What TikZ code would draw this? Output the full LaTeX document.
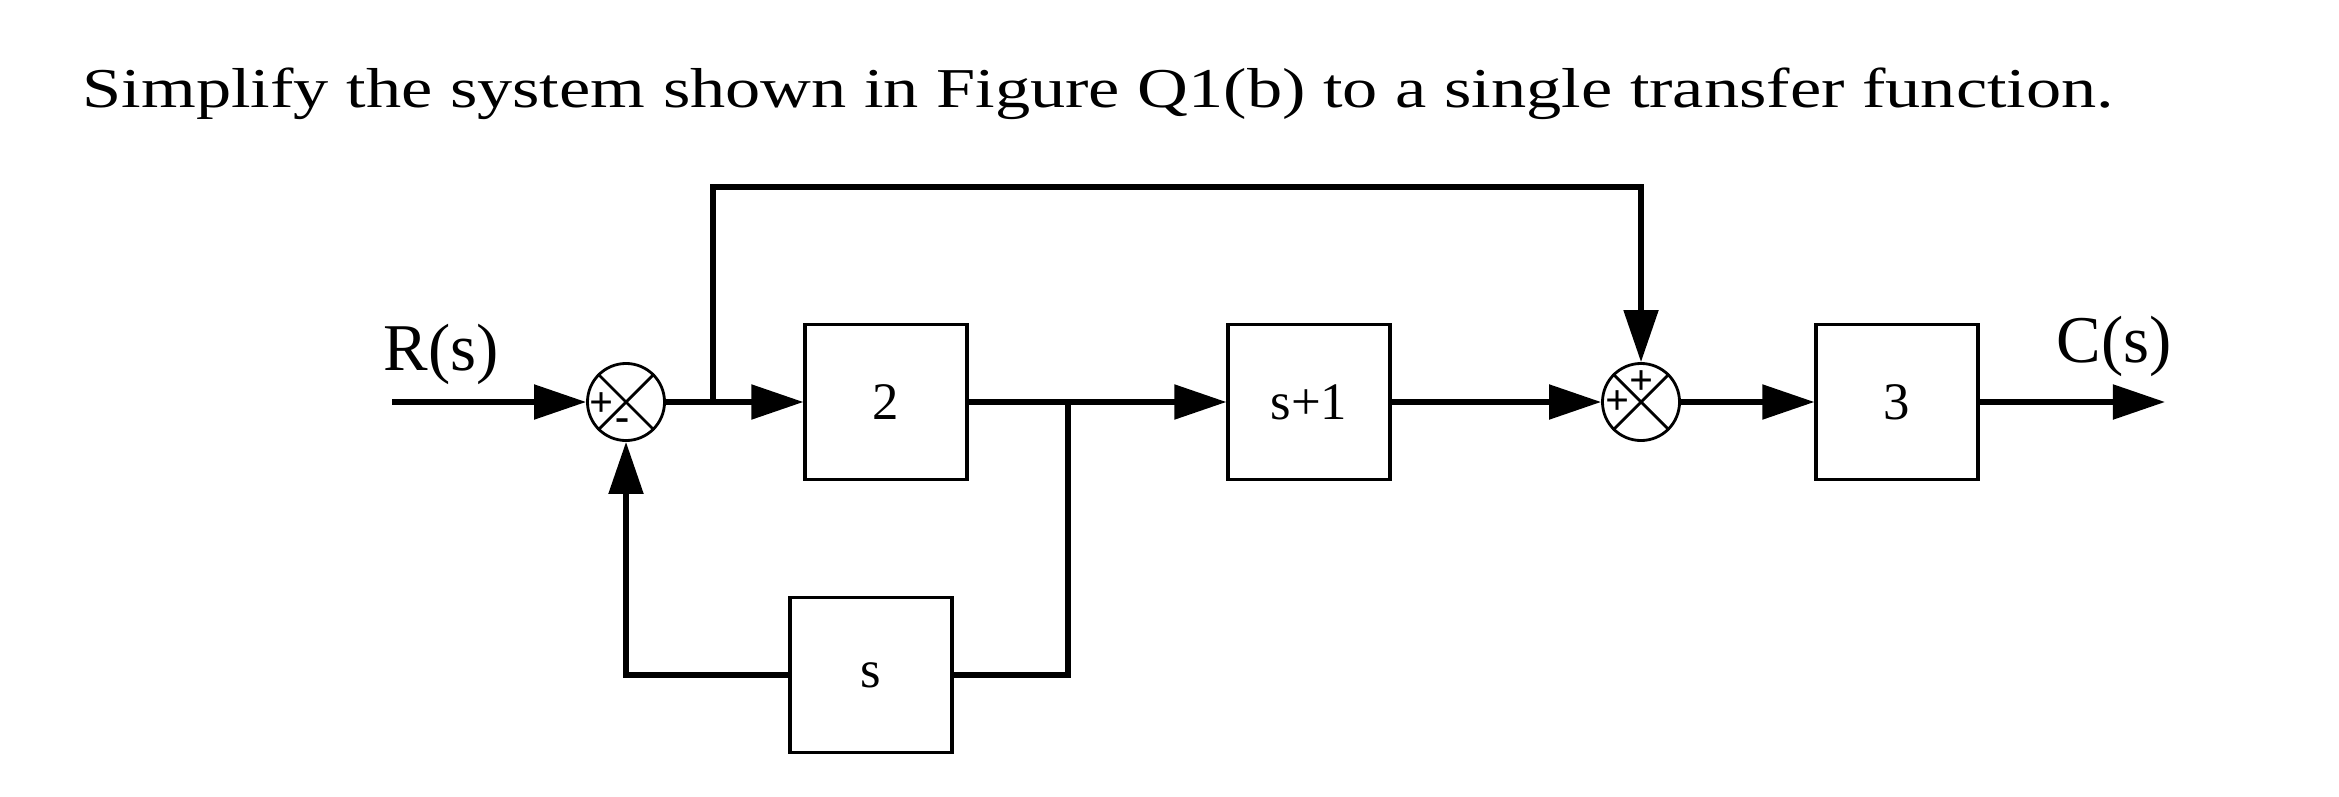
\documentclass[tikz,border=0pt]{standalone}
\usepackage{fontspec}
\setmainfont{Liberation Serif}
\newfontfamily\titlefont[FakeStretch=1.25]{Liberation Serif}
\usetikzlibrary{arrows.meta}

\begin{document}
\begin{tikzpicture}
[x=0.01cm,y=-0.01cm,>={Triangle[length=0.52cm,width=0.34cm]},
block/.style={draw,line width=0.9pt,minimum width=1.62cm,minimum height=1.55cm,inner sep=0pt,font=\fontsize{15}{18}\selectfont},
sumpt/.style={draw,circle,line width=0.8pt,minimum size=0.77cm,inner sep=0pt},
sign/.style={inner sep=0pt,font=\bfseries\fontsize{12}{12}\selectfont},
lbl/.style={inner sep=0pt,font=\fontsize{19}{22}\selectfont},
wire/.style={line width=1.5pt},]

\useasboundingbox (0,0) rectangle (2339,797);

\node (T) at (82,107)[anchor=base west,inner sep=0pt,font=\titlefont\fontsize{16}{19}\selectfont]{Simplify the system shown in Figure Q1(b) to a single transfer function.};

\coordinate (In) at (392,402);
\node (R) at (441,354)[lbl]{R(s)};
\node (S1) at (626,402)[sumpt]{};
\node (G2) at (886,402)[block]{2};
\node (G3) at (1309,402)[block]{s+1};
\node (S2) at (1641,402)[sumpt]{};
\node (G4) at (1897,402)[block]{3};
\node (H) at (871,675)[block]{s};
\coordinate (Out) at (2165,402);
\node (C) at (2114,346)[lbl]{C(s)};

% branch points
\coordinate (P1) at (713,402);
\coordinate (P2) at (1068,402);
\coordinate (Top) at (713,187);

% summing junctions
\draw[line width=0.8pt] (S1.north west) -- (S1.south east) (S1.north east) -- (S1.south west);
\draw[line width=0.8pt] (S2.north west) -- (S2.south east) (S2.north east) -- (S2.south west);
\node (S1a) at ([shift={(-24,3)}]S1.center)[sign]{+};
\node (S1b) at ([shift={(-3,23)}]S1.center)[sign]{-};
\node (S2a) at ([shift={(-23,1)}]S2.center)[sign]{+};
\node (S2b) at ([shift={(1,-19)}]S2.center)[sign]{+};

\draw[wire,->] (In) -- (S1.west);
\draw[wire,->] (S1.east) -- (G2.west);
\draw[wire,->] (G2.east) -- (G3.west);
\draw[wire,->] (G3.east) -- (S2.west);
\draw[wire,->] (S2.east) -- (G4.west);
\draw[wire,->] (G4.east) -- (Out);

\draw[wire,->] (P1) -- (Top) -| (S2.north);
\draw[wire] (P2) |- (H.east);
\draw[wire,->] (H.west) -| (S1.south);

\end{tikzpicture}
\end{document}
